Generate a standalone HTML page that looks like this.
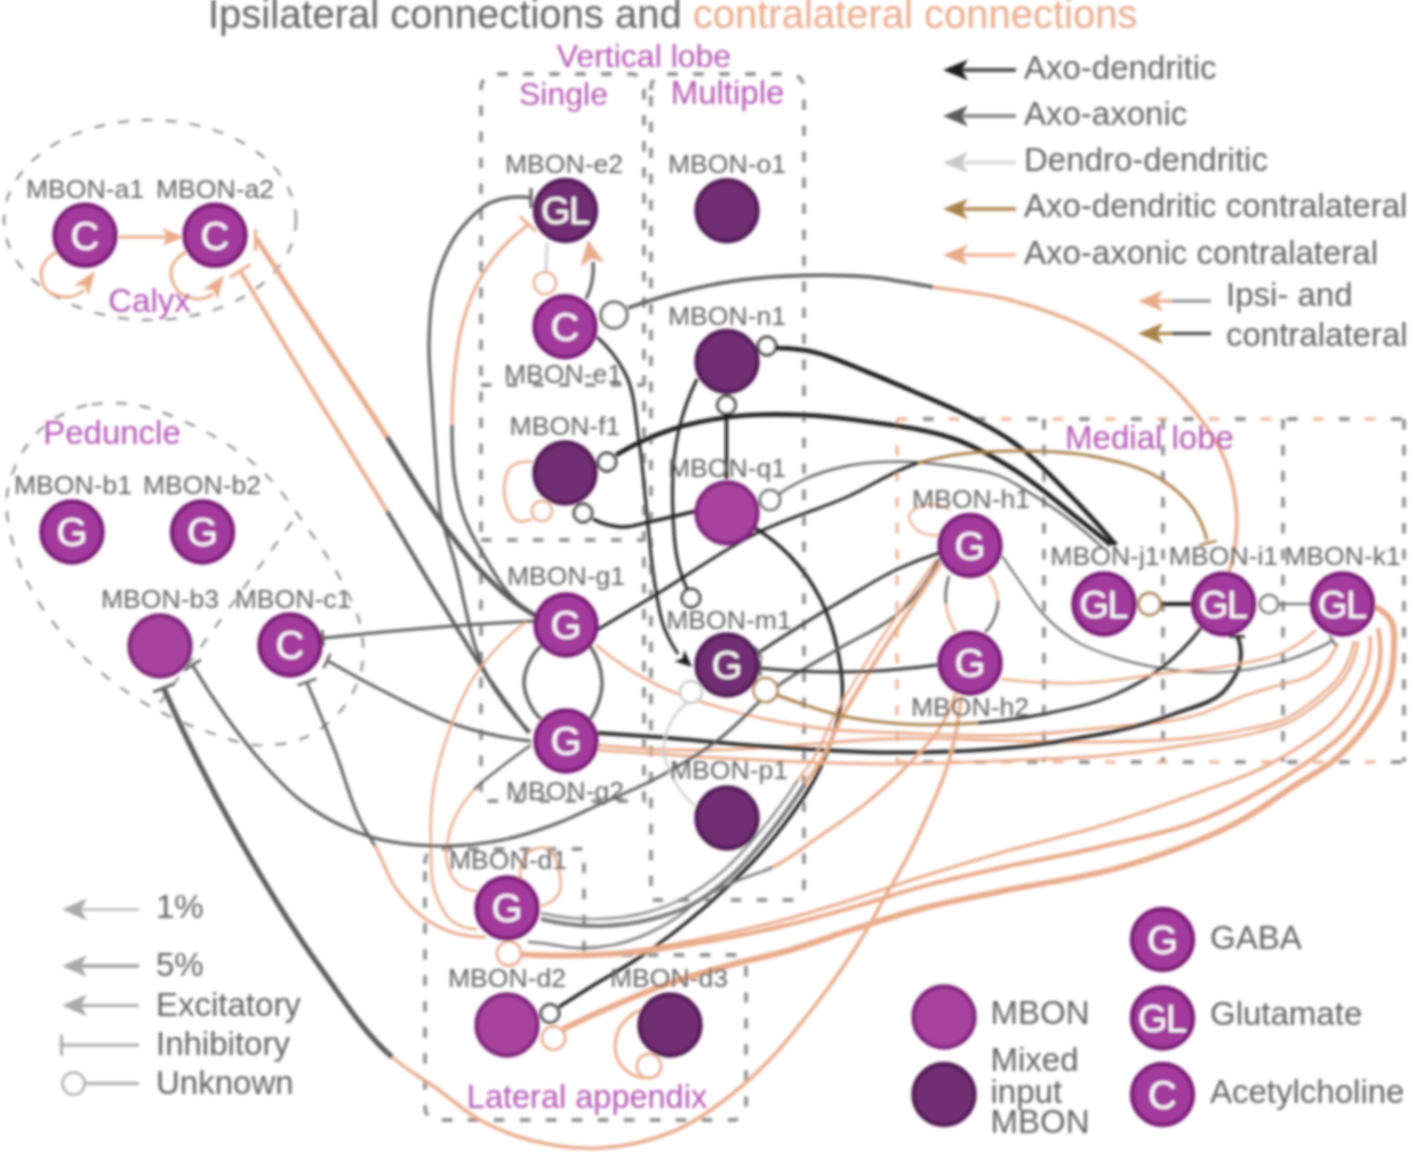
<!DOCTYPE html>
<html><head><meta charset="utf-8"><title>MBON connections</title>
<style>
html,body{margin:0;padding:0;background:#fff;}
body{width:1417px;height:1152px;overflow:hidden;}
svg{display:block;font-family:"Liberation Sans",sans-serif;}
</style></head><body>
<svg width="1417" height="1152" viewBox="0 0 1417 1152">
<defs><filter id="bl" x="-2%" y="-2%" width="104%" height="104%"><feGaussianBlur stdDeviation="1.5"/></filter></defs>
<rect width="1417" height="1152" fill="#fff"/>
<g filter="url(#bl)">
<ellipse cx="150" cy="220" rx="146" ry="100" fill="none" stroke="#8a8a8a" stroke-width="2.2" stroke-dasharray="11 13"/>
<path d="M87.0 405.0 C70.5 408.9 52.5 418.5 40.0 430.0 C24.3 444.6 12.2 468.3 8.0 489.0 C2.9 514.4 12.3 545.0 22.0 570.0 C32.8 597.8 52.6 623.8 73.0 646.0 C93.8 668.6 119.4 688.4 146.0 704.0 C165.4 715.3 186.6 724.6 208.0 732.0 C223.3 737.3 239.1 744.0 255.0 745.0 C271.8 746.1 290.8 743.8 306.0 737.0 C319.8 730.8 333.5 720.0 343.0 708.0 C351.1 697.7 357.9 684.7 361.0 672.0 C364.4 658.1 363.7 642.1 361.0 628.0 C358.1 612.7 350.0 598.1 343.0 584.0 C332.8 563.5 319.3 544.6 306.0 526.0 C292.4 506.9 278.9 486.9 262.0 471.0 C241.4 451.6 215.8 435.9 190.0 424.0 C171.0 415.3 150.6 406.4 130.0 404.0 C116.0 402.4 100.9 402.7 87.0 405.0" fill="none" stroke="#8a8a8a" stroke-width="2.2" stroke-dasharray="11 13"/>
<path d="M292 522 L160 703" fill="none" stroke="#8a8a8a" stroke-width="2.2" stroke-dasharray="11 13"/>
<path d="M481 90 Q481 74 497 74 L630 74 Q644 74 644 90 L644 801 L481 801 Z" fill="none" stroke="#939393" stroke-width="3.8" stroke-dasharray="10.5 15.5"/>
<path d="M651 90 Q651 74 667 74 L788 74 Q804 74 804 90 L804 886 Q804 900 790 900 L651 900 Z" fill="none" stroke="#939393" stroke-width="3.8" stroke-dasharray="10.5 15.5"/>
<path d="M481 385 L644 385" fill="none" stroke="#939393" stroke-width="3.8" stroke-dasharray="10.5 15.5"/>
<path d="M481 540 L644 540" fill="none" stroke="#939393" stroke-width="3.8" stroke-dasharray="10.5 15.5"/>
<path d="M425 864 Q425 849 440 849 L584 849 L584 955 L732 955 Q746 955 746 969 L746 1106 Q746 1120 732 1120 L440 1120 Q425 1120 425 1106 Z" fill="none" stroke="#939393" stroke-width="3.8" stroke-dasharray="10.5 15.5"/>
<path d="M897 419 L1404 419 M897 762 L1404 762 M897 419 L897 762" fill="none" stroke="#efb99c" stroke-width="3.4" stroke-dasharray="10.5 15.5"/>
<path d="M897 419 L1404 419" fill="none" stroke="#939393" stroke-width="3.8" stroke-dasharray="10.5 41.5" stroke-dashoffset="-26"/>
<path d="M897 762 L1404 762" fill="none" stroke="#939393" stroke-width="3.8" stroke-dasharray="10.5 41.5" stroke-dashoffset="-26"/>
<path d="M1044 419 L1044 762" fill="none" stroke="#939393" stroke-width="3.8" stroke-dasharray="10.5 15.5"/>
<path d="M1163 419 L1163 762" fill="none" stroke="#939393" stroke-width="3.8" stroke-dasharray="10.5 15.5"/>
<path d="M1283 419 L1283 762" fill="none" stroke="#939393" stroke-width="3.8" stroke-dasharray="10.5 15.5"/>
<path d="M1404 419 L1404 762" fill="none" stroke="#939393" stroke-width="3.8" stroke-dasharray="10.5 15.5"/>
<line x1="119" y1="237" x2="170" y2="237" stroke="#e9ab8b" stroke-width="3.2"/>
<path d="M184.0 237.0 L162.0 246.0 L167.5 237.0 L162.0 228.0 Z" fill="#e9ab8b"/>
<path d="M58.0 252.0 C51.5 253.9 43.9 261.5 42.0 268.0 C40.3 273.8 41.6 283.2 45.0 288.0 C49.1 293.8 60.4 297.7 68.0 297.0 C73.4 296.5 80.0 293.6 84.0 290.0" fill="none" stroke="#e9ab8b" stroke-width="3.0" stroke-linecap="butt"/>
<path d="M95.0 271.0 L88.6 295.8 L84.7 285.7 L73.9 285.5 Z" fill="#e9ab8b"/>
<path d="M186.0 252.0 C179.6 254.4 172.2 263.3 171.0 270.0 C169.9 276.4 173.4 286.2 178.0 291.0 C182.8 296.1 192.7 299.8 200.0 299.0 C204.3 298.5 209.5 296.6 213.0 294.0" fill="none" stroke="#e9ab8b" stroke-width="3.0" stroke-linecap="butt"/>
<path d="M224.0 275.0 L217.6 299.8 L213.7 289.7 L202.9 289.5 Z" fill="#e9ab8b"/>
<path d="M256.0 238.0 C270.7 260.3 285.3 282.7 300.0 305.0 C329.0 349.0 358.4 392.7 387.0 437.0" fill="none" stroke="#e9ab8b" stroke-width="5.0"/>
<path d="M387.0 437.0 C404.8 464.6 420.6 493.6 440.0 520.0 C452.6 537.2 465.3 554.6 480.0 570.0 C492.4 582.9 505.2 595.9 520.0 606.0 C525.8 610.0 531.8 613.7 538.0 617.0" fill="none" stroke="#5c5c5c" stroke-width="5.0"/>
<line x1="255.5" y1="229.0" x2="255.5" y2="251.0" stroke="#e9ab8b" stroke-width="3.0"/>
<path d="M241.0 272.0 C260.5 304.8 280.2 337.4 300.0 370.0 C328.7 417.2 358.5 463.7 387.0 511.0" fill="none" stroke="#e9ab8b" stroke-width="3.8"/>
<path d="M387.0 511.0 C404.8 540.6 422.0 570.5 440.0 600.0 C456.4 626.8 472.2 654.1 490.0 680.0 C502.4 698.1 515.5 715.8 529.0 733.0" fill="none" stroke="#5c5c5c" stroke-width="3.8"/>
<line x1="250.2" y1="264.6" x2="229.8" y2="277.4" stroke="#e9ab8b" stroke-width="3.0"/>
<path d="M531.0 198.0 C518.8 195.6 503.5 197.2 492.0 202.0 C479.5 207.2 468.7 219.1 460.0 230.0 C449.3 243.4 442.2 260.6 437.0 277.0 C430.5 297.5 429.7 320.3 429.0 342.0 C428.4 361.3 430.9 380.7 432.0 400.0 C433.2 420.0 434.4 440.0 436.0 460.0 C437.5 478.4 437.4 497.0 441.0 515.0 C443.8 528.9 448.9 542.3 453.0 556.0 C466.1 600.2 469.3 649.9 494.0 688.0 C504.1 703.7 516.7 719.0 530.0 732.0" fill="none" stroke="#5c5c5c" stroke-width="3.2" stroke-linecap="butt"/>
<line x1="531.0" y1="188.0" x2="531.0" y2="208.0" stroke="#5c5c5c" stroke-width="3.0"/>
<path d="M528.0 225.0 C510.9 237.4 495.3 254.1 484.0 272.0 C474.0 287.9 466.9 306.6 462.0 325.0 C458.3 338.9 456.7 353.6 455.0 368.0 C452.8 386.9 452.0 406.0 452.0 425.0" fill="none" stroke="#e9ab8b" stroke-width="3.2"/>
<path d="M452.0 425.0 C452.0 443.3 452.0 461.9 455.0 480.0 C456.9 491.4 459.2 503.1 463.0 514.0 C468.0 528.7 475.9 542.7 484.0 556.0 C494.8 573.8 505.4 593.6 522.0 606.0 C527.6 610.2 533.8 613.9 540.0 617.0" fill="none" stroke="#5c5c5c" stroke-width="3.2"/>
<line x1="519.8" y1="216.6" x2="536.2" y2="231.4" stroke="#e9ab8b" stroke-width="3.0"/>
<line x1="547" y1="243" x2="546" y2="272" stroke="#c9c9c9" stroke-width="2.5"/>
<circle cx="545.0" cy="283.0" r="11.0" fill="#fff" stroke="#e9ab8b" stroke-width="2.5"/>
<path d="M586.0 299.0 C588.7 293.7 590.8 287.8 592.0 282.0 C593.3 275.5 593.7 268.6 593.0 262.0" fill="none" stroke="#5c5c5c" stroke-width="3.2" stroke-linecap="butt"/>
<path d="M588.0 240.0 L604.2 262.5 L591.3 258.5 L580.5 266.7 Z" fill="#e9ab8b"/>
<path d="M628.0 308.0 C645.0 301.8 662.5 296.5 680.0 292.0 C700.1 286.9 720.5 282.8 741.0 280.0 C761.5 277.3 782.3 276.1 803.0 275.5 C825.3 274.9 847.8 275.0 870.0 277.0 C891.1 278.9 912.0 283.6 933.0 287.0" fill="none" stroke="#5c5c5c" stroke-width="3.6"/>
<path d="M933.0 287.0 C958.7 291.2 985.0 293.4 1010.0 300.0 C1044.5 309.1 1079.5 321.9 1110.0 340.0 C1137.2 356.2 1164.1 376.2 1185.0 400.0 C1200.7 417.9 1216.3 438.0 1225.0 460.0 C1230.6 474.2 1234.5 489.9 1236.0 505.0 C1238.2 527.0 1235.7 550.9 1229.0 572.0" fill="none" stroke="#e9ab8b" stroke-width="3.6"/>
<circle cx="614.0" cy="315.0" r="13.0" fill="#fff" stroke="#5c5c5c" stroke-width="3.0"/>
<path d="M597.0 337.0 C608.1 346.9 618.2 359.9 625.0 373.0 C635.4 393.0 635.4 418.2 639.0 441.0 C642.8 465.1 644.3 489.7 647.0 514.0 C649.6 537.7 650.8 561.6 655.0 585.0 C657.7 600.1 659.2 615.9 665.0 630.0 C668.5 638.3 672.9 646.6 678.0 654.0" fill="none" stroke="#1c1c1c" stroke-width="3.0" stroke-linecap="butt"/>
<path d="M692.0 667.0 L674.3 661.2 L682.5 658.5 L684.4 650.1 Z" fill="#1c1c1c"/>
<path d="M697.0 379.0 C689.3 394.8 683.2 411.9 679.0 429.0 C672.3 456.3 671.7 485.8 673.0 514.0 C673.9 532.7 674.6 552.1 680.0 570.0 C681.9 576.4 684.3 582.8 687.0 589.0" fill="none" stroke="#1c1c1c" stroke-width="3.0" stroke-linecap="butt"/>
<circle cx="691.0" cy="598.0" r="9.0" fill="#fff" stroke="#1c1c1c" stroke-width="2.8"/>
<path d="M776.0 348.0 C785.0 348.0 794.1 348.7 803.0 350.0 C826.2 353.4 848.0 364.4 870.0 373.0 C883.5 378.3 896.7 384.3 910.0 390.0 C926.7 397.2 943.7 403.9 960.0 412.0 C977.1 420.5 994.4 429.2 1010.0 440.0 C1032.2 455.4 1050.9 475.8 1070.0 495.0 C1086.0 511.0 1101.3 527.8 1116.0 545.0" fill="none" stroke="#1c1c1c" stroke-width="4.6" stroke-linecap="butt"/>
<circle cx="767.0" cy="346.0" r="9.0" fill="#fff" stroke="#1c1c1c" stroke-width="2.8"/>
<line x1="726.5" y1="414" x2="726.5" y2="479" stroke="#1c1c1c" stroke-width="3.5"/>
<circle cx="726.5" cy="405.0" r="9.0" fill="#fff" stroke="#1c1c1c" stroke-width="2.8"/>
<path d="M616.0 455.0 C633.8 444.3 653.3 435.4 673.0 429.0 C691.0 423.1 710.2 419.5 729.0 417.0 C753.4 413.8 778.4 414.0 803.0 415.0 C825.4 415.9 847.8 418.7 870.0 422.0 C900.3 426.5 931.7 429.8 960.0 441.0 C977.3 447.8 994.0 457.3 1010.0 467.0 C1034.9 482.1 1057.0 501.8 1080.0 520.0 C1090.4 528.2 1100.7 536.6 1111.0 545.0" fill="none" stroke="#1c1c1c" stroke-width="4.6" stroke-linecap="butt"/>
<circle cx="607.0" cy="462.0" r="9.0" fill="#fff" stroke="#1c1c1c" stroke-width="2.8"/>
<path d="M593.0 519.0 C601.6 523.6 612.2 526.6 622.0 527.0 C632.2 527.5 642.7 523.2 653.0 521.0 C667.4 518.0 681.7 514.6 696.0 511.0" fill="none" stroke="#1c1c1c" stroke-width="3.5" stroke-linecap="butt"/>
<circle cx="583.0" cy="513.0" r="9.0" fill="#fff" stroke="#1c1c1c" stroke-width="2.8"/>
<path d="M533.0 462.0 C527.2 460.5 516.8 462.4 512.0 466.0 C504.6 471.4 503.1 488.0 505.0 498.0 C506.6 506.1 510.8 519.1 518.0 521.0 C521.8 522.0 528.6 521.0 532.0 519.0" fill="none" stroke="#e9ab8b" stroke-width="2.6" stroke-linecap="butt"/>
<circle cx="542.0" cy="511.0" r="10.0" fill="#fff" stroke="#e9ab8b" stroke-width="2.6"/>
<path d="M779.0 494.0 C786.5 488.7 794.7 484.0 803.0 480.0 C816.8 473.4 832.0 469.1 847.0 466.0 C863.9 462.5 881.7 461.6 899.0 461.6 C916.3 461.6 933.8 463.5 951.0 466.0 C967.5 468.4 984.7 469.8 1000.0 476.0 C1010.5 480.3 1020.2 487.0 1030.0 493.0 C1043.7 501.4 1057.2 510.3 1070.0 520.0 C1081.5 528.7 1092.5 538.1 1103.0 548.0" fill="none" stroke="#5c5c5c" stroke-width="2.4" stroke-linecap="butt"/>
<circle cx="770.0" cy="500.0" r="10.0" fill="#fff" stroke="#5c5c5c" stroke-width="2.6"/>
<path d="M755.0 528.0 C767.6 535.7 779.7 545.4 790.0 556.0 C802.3 568.8 813.0 584.1 821.0 600.0 C829.1 616.1 834.5 634.2 838.0 652.0 C841.0 667.7 844.0 684.3 842.0 700.0 C840.9 708.4 838.3 716.8 836.0 725.0 C832.7 736.9 828.9 748.7 824.0 760.0 C819.2 771.0 813.3 781.7 807.0 792.0 C799.8 803.8 791.4 815.0 783.0 826.0 C775.4 835.9 767.4 845.7 759.0 855.0 C748.3 866.9 736.7 878.1 725.0 889.0 C712.4 900.8 699.4 912.2 686.0 923.0 C670.2 935.7 653.9 947.8 637.0 959.0 C621.4 969.3 604.9 978.1 589.0 988.0 C578.9 994.3 568.9 1000.6 559.0 1007.0" fill="none" stroke="#1c1c1c" stroke-width="3.4" stroke-linecap="butt"/>
<circle cx="550.0" cy="1013.5" r="9.0" fill="#fff" stroke="#1c1c1c" stroke-width="2.8"/>
<path d="M541.0 646.0 C531.8 653.7 524.1 670.0 524.0 682.0 C523.9 694.3 531.6 711.1 541.0 719.0" fill="none" stroke="#5c5c5c" stroke-width="3.4" stroke-linecap="butt"/>
<path d="M590.0 646.0 C597.1 655.7 601.9 670.0 602.0 682.0 C602.1 694.3 597.3 709.1 590.0 719.0" fill="none" stroke="#5c5c5c" stroke-width="3.4" stroke-linecap="butt"/>
<path d="M536.0 621.0 C504.0 622.5 472.0 624.5 440.0 627.0 C401.3 630.0 362.6 633.7 324.0 638.0" fill="none" stroke="#5c5c5c" stroke-width="3.0" stroke-linecap="butt"/>
<line x1="323.7" y1="646.0" x2="322.3" y2="630.0" stroke="#5c5c5c" stroke-width="2.5"/>
<path d="M531.0 741.0 C507.1 738.5 482.9 733.4 460.0 726.0 C436.1 718.3 413.6 706.2 391.0 695.0 C369.6 684.4 348.6 673.1 328.0 661.0" fill="none" stroke="#5c5c5c" stroke-width="3.0" stroke-linecap="butt"/>
<line x1="323.6" y1="668.3" x2="330.4" y2="653.7" stroke="#5c5c5c" stroke-width="2.5"/>
<path d="M597.0 630.0 C617.0 618.0 637.0 606.0 657.0 594.0 C691.1 573.5 723.3 549.3 759.0 532.0 C787.3 518.2 818.1 509.7 847.0 497.0 C871.0 486.4 893.0 470.5 918.0 463.0" fill="none" stroke="#1c1c1c" stroke-width="3.0"/>
<path d="M918.0 463.0 C928.8 459.8 939.9 457.4 951.0 455.5 C972.7 451.8 995.0 451.1 1017.0 451.0 C1043.3 450.9 1070.4 451.5 1096.0 457.0 C1117.5 461.6 1140.7 466.4 1159.0 478.0 C1172.1 486.3 1185.5 497.1 1194.0 510.0 C1199.8 518.9 1204.5 529.6 1207.0 540.0" fill="none" stroke="#a98048" stroke-width="3.0"/>
<line x1="1216.7" y1="540.7" x2="1199.3" y2="545.3" stroke="#a98048" stroke-width="2.6"/>
<path d="M596.0 645.0 C614.4 660.6 635.4 674.3 657.0 685.0 C678.4 695.6 702.0 702.4 725.0 709.0 C757.9 718.5 792.0 725.1 826.0 729.0 C850.5 731.8 875.3 732.0 900.0 733.0 C940.0 734.6 980.1 736.8 1020.0 735.0 C1046.7 733.8 1073.4 730.9 1100.0 728.0 C1133.4 724.3 1168.1 724.0 1200.0 714.0 C1216.0 709.0 1231.0 700.5 1247.0 695.0 C1258.8 690.9 1270.9 687.4 1283.0 684.0 C1289.3 682.2 1296.0 681.5 1302.0 679.0 C1310.4 675.6 1318.9 670.5 1325.0 664.0 C1330.4 658.2 1335.0 650.5 1337.5 643.0" fill="none" stroke="#e9ab8b" stroke-width="2.8" stroke-linecap="butt"/>
<path d="M598.0 745.0 C614.6 746.8 631.3 748.1 648.0 749.0 C670.6 750.2 693.3 750.5 716.0 750.0 C734.7 749.6 753.3 748.2 772.0 747.0 C783.3 746.3 794.7 745.4 806.0 744.5 C820.7 743.4 835.3 742.0 850.0 741.0 C866.6 739.9 883.3 738.9 900.0 738.5 C920.0 738.0 940.0 738.6 960.0 739.0 C980.0 739.4 1000.0 740.5 1020.0 741.0 C1046.7 741.7 1073.3 742.4 1100.0 742.0 C1133.4 741.5 1167.0 741.3 1200.0 737.0 C1215.7 734.9 1231.5 732.3 1247.0 729.0 C1259.1 726.4 1271.8 724.8 1283.0 720.0 C1295.3 714.8 1306.6 706.5 1317.0 698.0 C1325.5 691.1 1334.6 683.9 1340.6 675.0 C1347.3 665.2 1352.2 652.8 1354.0 641.0" fill="none" stroke="#e9ab8b" stroke-width="2.8" stroke-linecap="butt"/>
<path d="M598.0 750.0 C617.7 751.4 637.3 752.7 657.0 754.0 C691.0 756.2 725.0 758.4 759.0 760.0 C806.0 762.2 853.0 764.2 900.0 764.0 C940.0 763.8 980.0 761.7 1020.0 760.0 C1046.7 758.8 1073.4 758.3 1100.0 756.0 C1133.5 753.1 1166.8 748.4 1200.0 743.0 C1216.7 740.3 1233.6 738.0 1250.0 734.0 C1262.5 730.9 1275.4 728.3 1287.0 723.0 C1299.2 717.5 1310.6 709.5 1321.0 701.0 C1329.7 693.8 1339.0 686.2 1345.0 677.0 C1351.8 666.6 1356.6 653.4 1358.0 641.0" fill="none" stroke="#e9ab8b" stroke-width="2.8" stroke-linecap="butt"/>
<path d="M598.0 733.0 C617.7 734.2 637.3 735.5 657.0 737.0 C691.0 739.6 725.0 743.6 759.0 746.0 C805.9 749.3 853.0 753.0 900.0 752.6 C952.0 752.2 1004.7 750.3 1056.0 742.0 C1095.8 735.5 1136.5 728.7 1174.0 714.0 C1191.4 707.2 1213.1 703.4 1225.0 690.0 C1231.5 682.6 1238.2 672.6 1240.0 663.0 C1241.7 654.2 1240.5 643.2 1237.0 635.0" fill="none" stroke="#2a2a2a" stroke-width="4.0" stroke-linecap="butt"/>
<path d="M526.0 622.0 C506.0 636.8 487.6 656.2 474.0 677.0 C461.6 695.9 453.2 718.3 446.0 740.0 C440.3 757.2 435.5 775.1 433.0 793.0 C430.5 811.1 430.3 829.7 431.0 848.0 C431.6 863.7 430.3 880.7 436.0 895.0 C439.7 904.2 444.3 915.3 452.0 921.0 C458.6 925.9 468.8 929.1 477.0 929.0" fill="none" stroke="#e9ab8b" stroke-width="2.5" stroke-linecap="butt"/>
<path d="M531.0 745.0 C520.4 752.3 510.1 760.0 500.0 768.0 C491.1 775.1 481.6 781.6 474.0 790.0" fill="none" stroke="#5c5c5c" stroke-width="2.5"/>
<path d="M474.0 790.0 C468.0 796.7 462.3 804.1 458.0 812.0 C454.2 818.9 450.9 826.4 449.0 834.0 C446.8 843.0 445.1 853.2 447.0 862.0 C448.7 869.7 452.1 879.1 458.0 884.0 C462.8 888.0 470.7 890.9 477.0 891.0" fill="none" stroke="#e9ab8b" stroke-width="2.5"/>
<path d="M307.0 683.0 C316.7 705.5 326.0 728.2 335.0 751.0 C344.8 775.8 350.3 802.6 363.0 826.0 C366.7 832.8 371.2 839.2 375.0 846.0" fill="none" stroke="#5c5c5c" stroke-width="3.0"/>
<path d="M375.0 846.0 C383.1 860.3 387.4 877.0 397.0 890.0 C405.3 901.2 415.4 912.3 427.0 920.0 C436.3 926.2 447.2 931.2 458.0 934.0 C467.0 936.3 476.7 937.3 486.0 937.0" fill="none" stroke="#e9ab8b" stroke-width="3.0"/>
<line x1="316.4" y1="678.6" x2="297.6" y2="685.4" stroke="#5c5c5c" stroke-width="2.6"/>
<path d="M193.0 666.0 C203.5 683.8 214.9 701.3 227.0 718.0 C240.1 736.0 253.8 753.8 269.0 770.0 C278.8 780.5 288.8 791.2 300.0 800.0 C320.0 815.7 343.9 828.4 368.0 836.0 C390.7 843.2 415.9 845.7 440.0 846.0 C460.6 846.2 481.7 844.1 502.0 840.0 C521.0 836.2 539.8 830.0 558.0 823.0 C572.3 817.5 586.0 810.4 600.0 804.0 C619.0 795.4 638.6 787.8 657.0 778.0 C678.1 766.8 698.9 754.2 718.0 740.0 C739.9 723.7 757.0 701.1 779.0 685.0 C798.1 671.0 819.6 660.3 840.0 648.0 C860.0 636.0 883.2 627.5 900.0 612.0 C915.8 597.4 929.8 578.4 939.0 559.0" fill="none" stroke="#5c5c5c" stroke-width="3.0" stroke-linecap="butt"/>
<line x1="200.9" y1="659.6" x2="184.1" y2="670.4" stroke="#5c5c5c" stroke-width="2.6"/>
<path d="M164.0 689.0 C186.7 740.5 212.2 791.1 240.0 840.0 C264.7 883.4 290.7 926.5 320.0 967.0 C342.5 998.1 363.1 1032.2 392.0 1057.0" fill="none" stroke="#5c5c5c" stroke-width="5.2"/>
<path d="M392.0 1057.0 C406.7 1069.7 424.1 1079.6 440.0 1091.0 C453.4 1100.6 465.7 1112.0 480.0 1120.0 C495.6 1128.7 512.8 1135.3 530.0 1140.0 C552.8 1146.2 577.5 1149.2 601.0 1148.0 C624.9 1146.7 649.9 1141.0 672.0 1132.0 C697.4 1121.6 720.7 1103.7 742.0 1086.0 C768.9 1063.7 791.3 1035.6 813.0 1008.0 C832.2 983.6 850.1 957.8 866.0 931.0 C873.0 919.2 879.3 907.0 886.0 895.0 C892.9 882.6 900.4 870.6 907.0 858.0 C914.2 844.3 920.7 830.2 927.0 816.0 C934.6 798.9 942.6 781.8 948.0 764.0 C954.7 742.0 959.1 718.9 961.0 696.0" fill="none" stroke="#e9ab8b" stroke-width="3.6"/>
<line x1="173.7" y1="683.9" x2="153.3" y2="692.1" stroke="#5c5c5c" stroke-width="2.8"/>
<path d="M521.0 879.0 C517.8 871.1 522.8 855.5 530.0 851.0 C534.2 848.3 542.5 846.5 547.0 848.0 C553.5 850.1 557.2 862.2 559.0 870.0 C560.8 877.8 562.0 888.8 558.0 895.0 C554.6 900.2 546.2 905.4 540.0 906.0" fill="none" stroke="#e9ab8b" stroke-width="2.5" stroke-linecap="butt"/>
<path d="M641.0 1010.0 C632.5 1012.8 623.0 1021.0 619.0 1029.0 C615.0 1037.0 613.6 1049.8 617.0 1058.0 C619.7 1064.6 626.2 1071.8 633.0 1075.0 C636.6 1076.7 641.0 1077.8 645.0 1078.0" fill="none" stroke="#e9ab8b" stroke-width="3.0" stroke-linecap="butt"/>
<path d="M528.0 942.0 C532.0 942.3 536.0 942.6 540.0 943.0 C552.1 944.2 564.0 947.6 576.0 948.0 C588.3 948.4 601.0 947.4 613.0 945.0 C625.3 942.5 637.5 938.2 649.0 933.0 C658.3 928.8 667.4 923.7 676.0 918.0 C683.7 912.9 690.3 906.1 698.0 901.0 C709.2 893.5 721.7 887.6 734.0 882.0 C746.7 876.2 760.6 873.1 773.0 867.0" fill="none" stroke="#777" stroke-width="2.6"/>
<path d="M773.0 867.0 C789.7 858.7 804.5 846.6 820.0 836.0 C835.2 825.6 850.7 815.5 865.0 804.0 C879.7 792.2 894.0 779.6 907.0 766.0 C920.4 752.0 934.7 737.9 944.0 721.0 C948.8 712.2 953.0 702.6 956.0 693.0" fill="none" stroke="#e9ab8b" stroke-width="3.3"/>
<path d="M1375.0 607.0 C1380.8 609.4 1387.2 614.7 1390.6 620.0 C1395.8 628.1 1393.9 640.7 1393.8 651.0 C1393.6 664.1 1391.8 677.8 1387.5 690.0 C1382.6 704.1 1373.2 717.1 1364.0 729.0 C1355.0 740.7 1344.4 751.6 1333.0 761.0 C1321.1 770.7 1307.0 777.6 1294.0 786.0 C1278.3 796.2 1263.2 807.7 1247.0 817.0 C1209.2 838.8 1166.8 853.5 1125.0 866.0 C1084.4 878.1 1041.6 882.7 1000.0 891.5 C974.6 896.9 949.1 901.5 924.0 908.0 C900.4 914.1 877.3 921.7 854.0 929.0 C830.3 936.4 807.0 945.4 783.0 952.0 C766.8 956.5 750.2 959.6 734.0 964.0 C709.8 970.5 685.6 977.4 662.0 986.0 C645.4 992.0 629.2 999.0 613.0 1006.0 C596.2 1013.3 579.5 1021.0 563.0 1029.0" fill="none" stroke="#e9ab8b" stroke-width="6.0" stroke-linecap="butt"/>
<path d="M1378.0 628.0 C1380.2 638.0 1380.9 648.8 1380.0 659.0 C1379.0 669.5 1375.9 680.2 1372.0 690.0 C1366.5 704.0 1357.8 717.6 1348.0 729.0 C1337.2 741.6 1322.6 751.2 1309.0 761.0 C1294.2 771.7 1278.4 781.1 1262.5 790.0 C1244.2 800.3 1225.4 810.0 1206.0 818.0 C1172.3 831.9 1135.6 838.4 1100.0 847.0 C1066.9 855.0 1033.2 860.5 1000.0 868.0 C974.6 873.7 949.1 879.2 924.0 886.0 C900.5 892.3 877.4 900.4 854.0 907.0 C830.4 913.7 806.8 920.4 783.0 926.0 C758.8 931.7 734.4 936.6 710.0 941.0 C685.8 945.4 661.4 950.0 637.0 952.5 C598.6 956.5 559.5 957.3 521.0 955.0" fill="none" stroke="#e9ab8b" stroke-width="4.4" stroke-linecap="butt"/>
<path d="M1370.0 635.6 C1370.7 643.3 1370.2 651.4 1368.8 659.0 C1366.7 669.8 1361.3 680.2 1356.0 690.0 C1349.8 701.5 1342.1 712.8 1333.0 722.0 C1324.1 731.0 1312.7 737.9 1302.0 745.0 C1289.3 753.4 1276.1 761.2 1262.5 768.0 C1242.6 777.9 1220.9 784.3 1200.0 792.0 C1167.0 804.1 1133.7 815.8 1100.0 826.0 C1067.0 836.0 1033.2 843.4 1000.0 853.0 C974.6 860.3 949.2 868.0 924.0 876.0 C900.6 883.4 877.4 891.7 854.0 899.0 C830.4 906.4 806.9 913.7 783.0 920.0 C758.9 926.4 734.5 932.0 710.0 937.0 C685.8 942.0 661.5 947.1 637.0 950.0 C598.7 954.5 559.5 955.5 521.0 953.0" fill="none" stroke="#e9ab8b" stroke-width="3.2" stroke-linecap="butt"/>
<path d="M941.0 563.0 C929.1 581.1 917.1 599.1 905.0 617.0 C898.0 627.4 890.8 637.5 884.0 648.0 C876.8 659.2 869.9 670.6 863.0 682.0 C855.9 693.6 848.5 705.0 842.0 717.0 C834.6 730.6 829.9 745.7 822.0 759.0 C816.9 767.6 810.7 775.7 805.0 784.0" fill="none" stroke="#e9ab8b" stroke-width="4.0"/>
<path d="M805.0 784.0 C800.0 791.3 795.2 798.8 790.0 806.0 C781.7 817.6 773.1 829.0 764.0 840.0 C753.3 852.9 742.5 866.0 730.0 877.0 C718.1 887.5 705.1 897.8 691.0 905.0 C678.8 911.2 665.3 915.6 652.0 919.0 C635.2 923.3 617.3 925.7 600.0 926.0 C580.4 926.3 560.0 923.9 541.0 919.0" fill="none" stroke="#777" stroke-width="4.0"/>
<path d="M936.0 560.0 C923.1 577.9 910.5 595.9 898.0 614.0 C890.9 624.3 883.8 634.5 877.0 645.0 C869.8 656.2 862.9 667.6 856.0 679.0 C848.9 690.6 841.5 702.0 835.0 714.0 C827.6 727.6 823.1 742.8 815.0 756.0 C809.9 764.3 803.6 771.9 798.0 780.0" fill="none" stroke="#e9ab8b" stroke-width="2.4"/>
<path d="M798.0 780.0 C792.9 787.3 788.2 794.8 783.0 802.0 C774.8 813.3 766.1 824.4 757.0 835.0 C746.3 847.5 735.5 860.3 723.0 871.0 C711.0 881.2 698.0 890.8 684.0 898.0 C672.6 903.9 660.3 908.6 648.0 912.0 C632.5 916.3 616.0 918.5 600.0 919.0 C580.4 919.7 560.1 917.6 541.0 913.0" fill="none" stroke="#888" stroke-width="2.4"/>
<circle cx="509.0" cy="953.5" r="12.0" fill="#fff" stroke="#e9ab8b" stroke-width="2.8"/>
<circle cx="553.5" cy="1038.0" r="11.6" fill="#fff" stroke="#e9ab8b" stroke-width="2.8"/>
<circle cx="649.0" cy="1066.0" r="12.0" fill="#fff" stroke="#e9ab8b" stroke-width="2.8"/>
<path d="M942.0 534.0 C934.6 537.0 921.8 534.6 916.0 529.0 C912.8 525.9 908.4 519.8 909.0 516.0 C909.7 512.0 916.6 507.9 921.0 506.0 C929.3 502.4 943.0 504.3 950.0 510.0" fill="none" stroke="#e9ab8b" stroke-width="2.2" stroke-linecap="butt"/>
<path d="M949.0 576.0 C946.1 584.7 945.0 594.9 946.0 604.0" fill="none" stroke="#5c5c5c" stroke-width="2.4"/>
<path d="M946.0 604.0 C947.1 613.6 950.8 623.9 956.0 632.0" fill="none" stroke="#e9ab8b" stroke-width="2.4"/>
<path d="M988.0 575.0 C993.6 581.5 997.8 592.4 998.0 601.0" fill="none" stroke="#e9ab8b" stroke-width="2.4"/>
<path d="M998.0 601.0 C998.2 611.4 992.6 624.9 985.0 632.0" fill="none" stroke="#5c5c5c" stroke-width="2.4"/>
<path d="M1002.0 556.0 C1007.9 564.7 1013.9 573.4 1020.0 582.0 C1027.9 593.1 1034.8 605.2 1044.0 615.0 C1054.2 625.8 1066.1 635.7 1079.0 643.0 C1089.8 649.1 1102.1 653.1 1114.0 657.0 C1128.9 661.9 1144.5 665.5 1160.0 668.0 C1181.7 671.5 1204.2 673.5 1226.0 672.0 C1246.8 670.6 1268.1 666.5 1288.0 660.0 C1303.1 655.1 1318.1 648.6 1332.0 641.0" fill="none" stroke="#5c5c5c" stroke-width="2.0" stroke-linecap="butt"/>
<path d="M1201.0 628.0 C1189.5 643.3 1175.3 657.5 1160.0 669.0 C1146.0 679.5 1130.0 688.0 1114.0 695.0 C1092.0 704.6 1067.7 709.3 1044.0 714.0 C1022.3 718.3 1000.1 721.3 978.0 723.0" fill="none" stroke="#2a2a2a" stroke-width="3.0"/>
<path d="M978.0 723.0 C947.5 725.3 916.4 725.7 886.0 722.5 C868.6 720.7 851.0 718.3 834.0 714.0 C823.2 711.3 812.6 707.6 802.0 704.0 C793.6 701.2 785.3 698.2 777.0 695.0" fill="none" stroke="#a98048" stroke-width="3.0"/>
<circle cx="765.5" cy="690.0" r="12.0" fill="#fff" stroke="#a98048" stroke-width="2.6"/>
<path d="M759.0 668.0 C785.8 670.8 813.0 672.2 840.0 672.0 C872.4 671.8 905.0 669.5 937.0 665.0" fill="none" stroke="#333" stroke-width="3.0" stroke-linecap="butt"/>
<path d="M758.0 653.0 C771.9 643.8 785.9 634.8 800.0 626.0 C814.2 617.1 828.5 608.5 843.0 600.0 C861.8 589.0 880.2 576.9 900.0 568.0 C912.7 562.3 925.8 557.3 939.0 553.0" fill="none" stroke="#2a2a2a" stroke-width="3.0" stroke-linecap="butt"/>
<path d="M1001.0 679.0 C1028.4 682.7 1056.4 684.0 1084.0 683.0 C1111.4 682.0 1138.7 676.2 1166.0 673.0 C1186.3 670.6 1206.9 669.7 1227.0 666.0 C1247.6 662.2 1269.8 659.8 1288.0 650.0 C1298.0 644.7 1307.7 637.7 1316.0 630.0" fill="none" stroke="#e9ab8b" stroke-width="2.5" stroke-linecap="butt"/>
<line x1="1161" y1="604" x2="1193" y2="604" stroke="#1c1c1c" stroke-width="4"/>
<circle cx="1149.5" cy="604.0" r="11.0" fill="#fff" stroke="#a98048" stroke-width="2.8"/>
<line x1="1278" y1="604" x2="1312" y2="604" stroke="#5c5c5c" stroke-width="2"/>
<circle cx="1269.0" cy="604.0" r="9.0" fill="#fff" stroke="#5c5c5c" stroke-width="2.4"/>
<path d="M688.0 702.0 C681.7 706.7 675.9 713.2 672.0 720.0 C666.7 729.3 663.1 741.4 664.0 752.0 C664.6 758.7 667.3 765.7 670.0 772.0 C675.5 784.8 684.4 797.0 695.0 806.0" fill="none" stroke="#c9c9c9" stroke-width="2.2" stroke-linecap="butt"/>
<circle cx="691.0" cy="692.0" r="11.0" fill="#fff" stroke="#c9c9c9" stroke-width="2.4"/>
<line x1="754.7" y1="646.6" x2="762.3" y2="658.4" stroke="#666" stroke-width="2.4"/>
<line x1="760.5" y1="660.0" x2="760.5" y2="676.0" stroke="#666" stroke-width="2.4"/>
<line x1="1245.0" y1="636.5" x2="1229.0" y2="636.5" stroke="#2a2a2a" stroke-width="2.6"/>
<line x1="1329.6" y1="636.1" x2="1336.4" y2="645.9" stroke="#5c5c5c" stroke-width="2.0"/>
<circle cx="85.0" cy="235.3" r="30.5" fill="#a33b9d" stroke="#7a1e76" stroke-width="4.4"/>
<text x="85.0" y="249.6" font-size="40" fill="#fff" text-anchor="middle">C</text>
<circle cx="215.0" cy="235.3" r="30.5" fill="#a33b9d" stroke="#7a1e76" stroke-width="4.4"/>
<text x="215.0" y="249.6" font-size="40" fill="#fff" text-anchor="middle">C</text>
<circle cx="565.5" cy="210.5" r="30.5" fill="#722f72" stroke="#531a56" stroke-width="4.4"/>
<text x="564.8" y="224.1" font-size="38" fill="#fff" text-anchor="middle" letter-spacing="-1.5">GL</text>
<circle cx="565.0" cy="326.7" r="30.5" fill="#a33b9d" stroke="#7a1e76" stroke-width="4.4"/>
<text x="565.0" y="341.0" font-size="40" fill="#fff" text-anchor="middle">C</text>
<circle cx="727.0" cy="210.7" r="30.5" fill="#722f72" stroke="#531a56" stroke-width="4.4"/>
<circle cx="727.0" cy="361.5" r="30.5" fill="#722f72" stroke="#531a56" stroke-width="4.4"/>
<circle cx="565.0" cy="473.0" r="30.5" fill="#722f72" stroke="#531a56" stroke-width="4.4"/>
<circle cx="727.0" cy="513.0" r="30.5" fill="#a8439f" stroke="#80257b" stroke-width="4.4"/>
<circle cx="566.0" cy="625.0" r="30.5" fill="#a33b9d" stroke="#7a1e76" stroke-width="4.4"/>
<text x="566.0" y="639.3" font-size="40" fill="#fff" text-anchor="middle">G</text>
<circle cx="566.0" cy="741.0" r="30.5" fill="#a33b9d" stroke="#7a1e76" stroke-width="4.4"/>
<text x="566.0" y="755.3" font-size="40" fill="#fff" text-anchor="middle">G</text>
<circle cx="727.0" cy="665.0" r="30.5" fill="#722f72" stroke="#531a56" stroke-width="4.4"/>
<text x="727.0" y="679.3" font-size="40" fill="#fff" text-anchor="middle">G</text>
<circle cx="727.0" cy="818.0" r="30.5" fill="#722f72" stroke="#531a56" stroke-width="4.4"/>
<circle cx="507.0" cy="908.0" r="30.5" fill="#a33b9d" stroke="#7a1e76" stroke-width="4.4"/>
<text x="507.0" y="922.3" font-size="40" fill="#fff" text-anchor="middle">G</text>
<circle cx="507.0" cy="1025.0" r="30.5" fill="#a8439f" stroke="#80257b" stroke-width="4.4"/>
<circle cx="670.0" cy="1025.0" r="30.5" fill="#722f72" stroke="#531a56" stroke-width="4.4"/>
<circle cx="72.0" cy="532.0" r="30.5" fill="#a33b9d" stroke="#7a1e76" stroke-width="4.4"/>
<text x="72.0" y="546.3" font-size="40" fill="#fff" text-anchor="middle">G</text>
<circle cx="202.5" cy="532.0" r="30.5" fill="#a33b9d" stroke="#7a1e76" stroke-width="4.4"/>
<text x="202.5" y="546.3" font-size="40" fill="#fff" text-anchor="middle">G</text>
<circle cx="160.0" cy="646.0" r="30.5" fill="#a8439f" stroke="#80257b" stroke-width="4.4"/>
<circle cx="290.0" cy="645.0" r="30.5" fill="#a33b9d" stroke="#7a1e76" stroke-width="4.4"/>
<text x="290.0" y="659.3" font-size="40" fill="#fff" text-anchor="middle">C</text>
<circle cx="970.0" cy="545.5" r="30.5" fill="#a33b9d" stroke="#7a1e76" stroke-width="4.4"/>
<text x="970.0" y="559.8" font-size="40" fill="#fff" text-anchor="middle">G</text>
<circle cx="970.0" cy="663.0" r="30.5" fill="#a33b9d" stroke="#7a1e76" stroke-width="4.4"/>
<text x="970.0" y="677.3" font-size="40" fill="#fff" text-anchor="middle">G</text>
<circle cx="1104.0" cy="604.0" r="30.5" fill="#a33b9d" stroke="#7a1e76" stroke-width="4.4"/>
<text x="1103.3" y="617.6" font-size="38" fill="#fff" text-anchor="middle" letter-spacing="-1.5">GL</text>
<circle cx="1223.5" cy="604.0" r="30.5" fill="#a33b9d" stroke="#7a1e76" stroke-width="4.4"/>
<text x="1222.8" y="617.6" font-size="38" fill="#fff" text-anchor="middle" letter-spacing="-1.5">GL</text>
<circle cx="1342.5" cy="604.0" r="30.5" fill="#a33b9d" stroke="#7a1e76" stroke-width="4.4"/>
<text x="1341.8" y="617.6" font-size="38" fill="#fff" text-anchor="middle" letter-spacing="-1.5">GL</text>
<circle cx="944.0" cy="1017.0" r="30.5" fill="#a8439f" stroke="#80257b" stroke-width="4.4"/>
<circle cx="944.0" cy="1094.5" r="30.5" fill="#722f72" stroke="#531a56" stroke-width="4.4"/>
<circle cx="1162.5" cy="939.5" r="30.5" fill="#a33b9d" stroke="#7a1e76" stroke-width="4.4"/>
<text x="1162.5" y="953.8" font-size="40" fill="#fff" text-anchor="middle">G</text>
<circle cx="1162.5" cy="1018.0" r="30.5" fill="#a33b9d" stroke="#7a1e76" stroke-width="4.4"/>
<text x="1161.8" y="1031.6" font-size="38" fill="#fff" text-anchor="middle" letter-spacing="-1.5">GL</text>
<circle cx="1162.5" cy="1094.5" r="30.5" fill="#a33b9d" stroke="#7a1e76" stroke-width="4.4"/>
<text x="1162.5" y="1108.8" font-size="40" fill="#fff" text-anchor="middle">C</text>
<text x="85.0" y="197.5" font-size="26.6" fill="#626262" text-anchor="middle">MBON-a1</text>
<text x="215.0" y="197.5" font-size="26.6" fill="#626262" text-anchor="middle">MBON-a2</text>
<text x="564.0" y="172.5" font-size="26.6" fill="#626262" text-anchor="middle">MBON-e2</text>
<text x="727.0" y="172.5" font-size="26.6" fill="#626262" text-anchor="middle">MBON-o1</text>
<text x="563.0" y="382.5" font-size="26.6" fill="#626262" text-anchor="middle">MBON-e1</text>
<text x="727.0" y="324.5" font-size="26.6" fill="#626262" text-anchor="middle">MBON-n1</text>
<text x="565.0" y="435.0" font-size="26.6" fill="#626262" text-anchor="middle">MBON-f1</text>
<text x="727.0" y="476.5" font-size="26.6" fill="#626262" text-anchor="middle">MBON-q1</text>
<text x="566.0" y="585.0" font-size="26.6" fill="#626262" text-anchor="middle">MBON-g1</text>
<text x="729.0" y="629.0" font-size="26.6" fill="#626262" text-anchor="middle">MBON-m1</text>
<text x="565.0" y="799.5" font-size="26.6" fill="#626262" text-anchor="middle">MBON-g2</text>
<text x="729.0" y="779.0" font-size="26.6" fill="#626262" text-anchor="middle">MBON-p1</text>
<text x="508.0" y="869.0" font-size="26.6" fill="#626262" text-anchor="middle">MBON-d1</text>
<text x="507.0" y="987.0" font-size="26.6" fill="#626262" text-anchor="middle">MBON-d2</text>
<text x="669.0" y="987.0" font-size="26.6" fill="#626262" text-anchor="middle">MBON-d3</text>
<text x="73.0" y="494.0" font-size="26.6" fill="#626262" text-anchor="middle">MBON-b1</text>
<text x="202.0" y="494.0" font-size="26.6" fill="#626262" text-anchor="middle">MBON-b2</text>
<text x="160.0" y="607.5" font-size="26.6" fill="#626262" text-anchor="middle">MBON-b3</text>
<text x="293.0" y="607.5" font-size="26.6" fill="#626262" text-anchor="middle">MBON-c1</text>
<text x="971.0" y="507.5" font-size="26.6" fill="#626262" text-anchor="middle">MBON-h1</text>
<text x="970.0" y="716.0" font-size="26.6" fill="#626262" text-anchor="middle">MBON-h2</text>
<text x="1105.0" y="565.0" font-size="26.6" fill="#626262" text-anchor="middle">MBON-j1</text>
<text x="1223.5" y="565.0" font-size="26.6" fill="#626262" text-anchor="middle">MBON-i1</text>
<text x="1342.5" y="565.0" font-size="26.6" fill="#626262" text-anchor="middle">MBON-k1</text>
<text x="644.0" y="66.5" font-size="32.0" fill="#b256b1" text-anchor="middle">Vertical lobe</text>
<text x="563.5" y="104.8" font-size="32.0" fill="#b256b1" text-anchor="middle">Single</text>
<text x="727.5" y="104.0" font-size="33.0" fill="#b256b1" text-anchor="middle">Multiple</text>
<text x="149.5" y="311.5" font-size="33.0" fill="#b256b1" text-anchor="middle">Calyx</text>
<text x="112.0" y="444.0" font-size="33.0" fill="#b256b1" text-anchor="middle">Peduncle</text>
<text x="1149.5" y="449.0" font-size="33.0" fill="#b256b1" text-anchor="middle">Medial lobe</text>
<text x="587.0" y="1107.5" font-size="32.5" fill="#b256b1" text-anchor="middle">Lateral appendix</text>
<text x="208" y="28" font-size="40" fill="#626262">Ipsilateral connections and <tspan fill="#e9ab8b">contralateral connections</tspan></text>
<text x="1024.0" y="79.0" font-size="33.0" fill="#626262" text-anchor="start">Axo-dendritic</text>
<text x="1024.0" y="124.5" font-size="33.0" fill="#626262" text-anchor="start">Axo-axonic</text>
<text x="1024.0" y="171.0" font-size="33.0" fill="#626262" text-anchor="start">Dendro-dendritic</text>
<text x="1024.0" y="217.0" font-size="33.0" fill="#626262" text-anchor="start">Axo-dendritic contralateral</text>
<text x="1024.0" y="263.5" font-size="33.0" fill="#626262" text-anchor="start">Axo-axonic contralateral</text>
<text x="1226.0" y="306.0" font-size="33.0" fill="#626262" text-anchor="start">Ipsi- and</text>
<text x="1226.0" y="345.5" font-size="33.0" fill="#626262" text-anchor="start">contralateral</text>
<line x1="958" y1="70.0" x2="1016" y2="70.0" stroke="#505050" stroke-width="4"/>
<path d="M943.0 70.0 L968.0 59.5 L961.8 70.0 L968.0 80.5 Z" fill="#1c1c1c"/>
<line x1="958" y1="116.0" x2="1016" y2="116.0" stroke="#8e8e8e" stroke-width="4"/>
<path d="M943.0 116.0 L968.0 105.5 L961.8 116.0 L968.0 126.5 Z" fill="#5c5c5c"/>
<line x1="958" y1="162.5" x2="1016" y2="162.5" stroke="#dcdcdc" stroke-width="4"/>
<path d="M943.0 162.5 L968.0 152.0 L961.8 162.5 L968.0 173.0 Z" fill="#c9c9c9"/>
<line x1="958" y1="209.0" x2="1016" y2="209.0" stroke="#b8935e" stroke-width="4"/>
<path d="M943.0 209.0 L968.0 198.5 L961.8 209.0 L968.0 219.5 Z" fill="#a98048"/>
<line x1="958" y1="255.0" x2="1016" y2="255.0" stroke="#f0bda2" stroke-width="4"/>
<path d="M943.0 255.0 L968.0 244.5 L961.8 255.0 L968.0 265.5 Z" fill="#e9ab8b"/>
<line x1="1152" y1="301.0" x2="1172" y2="301.0" stroke="#e9ab8b" stroke-width="3.2"/>
<line x1="1172" y1="301.0" x2="1211" y2="301.0" stroke="#8a8a8a" stroke-width="3.2"/>
<path d="M1138.0 301.0 L1163.0 290.5 L1156.8 301.0 L1163.0 311.5 Z" fill="#e9ab8b"/>
<line x1="1152" y1="333.5" x2="1172" y2="333.5" stroke="#a98048" stroke-width="3.2"/>
<line x1="1172" y1="333.5" x2="1211" y2="333.5" stroke="#3a3a3a" stroke-width="3.2"/>
<path d="M1138.0 333.5 L1163.0 323.0 L1156.8 333.5 L1163.0 344.0 Z" fill="#a98048"/>
<text x="156.0" y="917.5" font-size="33.0" fill="#626262" text-anchor="start">1%</text>
<text x="156.0" y="975.5" font-size="33.0" fill="#626262" text-anchor="start">5%</text>
<text x="156.0" y="1016.0" font-size="33.0" fill="#626262" text-anchor="start">Excitatory</text>
<text x="156.0" y="1054.5" font-size="33.0" fill="#626262" text-anchor="start">Inhibitory</text>
<text x="156.0" y="1094.0" font-size="33.0" fill="#626262" text-anchor="start">Unknown</text>
<line x1="75" y1="909.5" x2="139" y2="909.5" stroke="#a9a9a9" stroke-width="2"/>
<path d="M62.0 909.5 L87.0 898.5 L80.8 909.5 L87.0 920.5 Z" fill="#a9a9a9"/>
<line x1="75" y1="966" x2="139" y2="966" stroke="#a9a9a9" stroke-width="4"/>
<path d="M62.0 966.0 L87.0 955.0 L80.8 966.0 L87.0 977.0 Z" fill="#a9a9a9"/>
<line x1="75" y1="1005.5" x2="139" y2="1005.5" stroke="#a9a9a9" stroke-width="3"/>
<path d="M62.0 1005.5 L87.0 994.5 L80.8 1005.5 L87.0 1016.5 Z" fill="#a9a9a9"/>
<line x1="62" y1="1045" x2="139" y2="1045" stroke="#a9a9a9" stroke-width="3"/>
<line x1="61.5" y1="1034.5" x2="61.5" y2="1055.5" stroke="#a9a9a9" stroke-width="3.0"/>
<line x1="85" y1="1083.5" x2="139" y2="1083.5" stroke="#a9a9a9" stroke-width="3"/>
<circle cx="73.6" cy="1083.5" r="11.0" fill="#fff" stroke="#a9a9a9" stroke-width="2.5"/>
<text x="990.5" y="1023.5" font-size="33.0" fill="#626262" text-anchor="start">MBON</text>
<text x="990.5" y="1070.5" font-size="33.0" fill="#626262" text-anchor="start">Mixed</text>
<text x="990.5" y="1103.0" font-size="33.0" fill="#626262" text-anchor="start">input</text>
<text x="990.5" y="1133.0" font-size="33.0" fill="#626262" text-anchor="start">MBON</text>
<text x="1210.0" y="948.5" font-size="33.0" fill="#626262" text-anchor="start">GABA</text>
<text x="1210.0" y="1024.5" font-size="33.0" fill="#626262" text-anchor="start">Glutamate</text>
<text x="1210.0" y="1102.5" font-size="33.0" fill="#626262" text-anchor="start">Acetylcholine</text>
</g>
</svg>
</body></html>
